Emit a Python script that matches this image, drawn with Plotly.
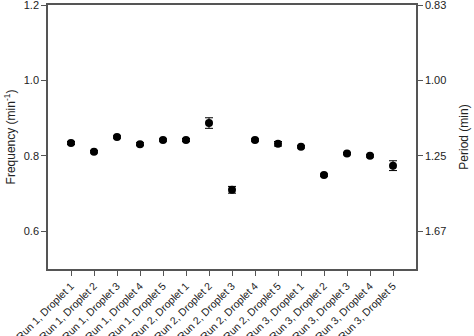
import plotly.graph_objects as go

categories = [f"Run {r}, Droplet {d}" for r in (1, 2, 3) for d in range(1, 6)]
frequency = [0.834, 0.811, 0.850, 0.831, 0.842, 0.842, 0.887, 0.710, 0.842, 0.832,
             0.824, 0.749, 0.806, 0.800, 0.774]
freq_err = [0.004, 0.003, 0.003, 0.004, 0.003, 0.004, 0.014, 0.009, 0.003, 0.006,
            0.003, 0.003, 0.003, 0.003, 0.013]
left_ticks = [0.6, 0.8, 1.0, 1.2]
period_ticktext = ["1.67", "1.25", "1.00", "0.83"]

x_idx = list(range(len(categories)))
axis_color = "#555555"
font = dict(family="Liberation Sans, Arial, sans-serif", size=11, color="#222222")

fig = go.Figure()
fig.add_trace(go.Scatter(
    x=x_idx, y=frequency, mode="markers",
    marker=dict(color="black", size=8),
    error_y=dict(type="data", array=freq_err, color="black", thickness=1, width=4),
    showlegend=False,
))
fig.add_trace(go.Scatter(
    x=x_idx, y=frequency, mode="markers", yaxis="y2",
    marker=dict(opacity=0), hoverinfo="skip", showlegend=False,
))

fig.update_layout(
    width=474, height=336,
    margin=dict(l=48, r=58, t=5, b=67),
    plot_bgcolor="white", paper_bgcolor="white",
    font=font,
    xaxis=dict(
        range=[-1, len(categories)], tickmode="array", tickvals=x_idx, ticktext=categories,
        tickangle=-45, ticks="outside", ticklen=5, tickcolor=axis_color,
        showline=True, linecolor=axis_color, linewidth=1.5, mirror=True,
        showgrid=False, zeroline=False, tickfont=dict(size=10.5), automargin=False,
        ticklabeloverflow="allow",
    ),
    yaxis=dict(
        range=[0.5, 1.2], tickmode="array", tickvals=left_ticks,
        ticktext=[f"{v:.1f}" for v in left_ticks],
        ticks="outside", ticklen=5, tickcolor=axis_color,
        showline=True, linecolor=axis_color, linewidth=1.5, mirror=True,
        showgrid=False, zeroline=False, automargin=False, ticklabeloverflow="allow",
        title=dict(text="Frequency (min<sup>-1</sup>)", standoff=6, font=dict(size=12)),
    ),
    yaxis2=dict(
        overlaying="y", side="right", range=[0.5, 1.2], tickmode="array",
        tickvals=left_ticks, ticktext=period_ticktext,
        ticks="outside", ticklen=5, tickcolor=axis_color,
        showline=True, linecolor=axis_color, linewidth=1.5,
        showgrid=False, zeroline=False, automargin=False, ticklabeloverflow="allow",
        title=dict(text="Period (min)", standoff=14, font=dict(size=12)),
    ),
)

fig.write_html("out.html")
